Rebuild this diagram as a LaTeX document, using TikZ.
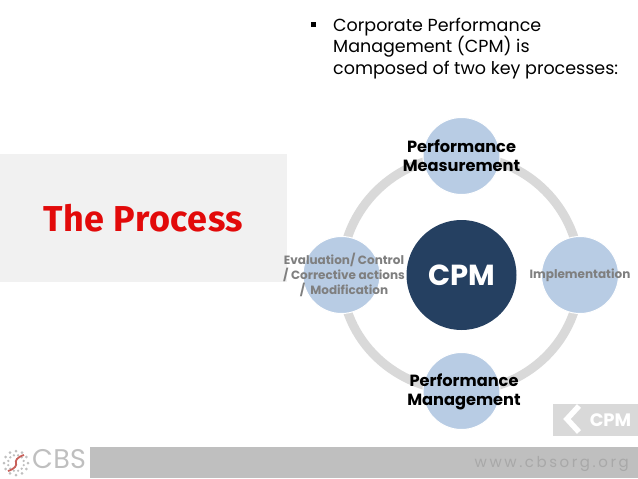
\documentclass[tikz,border=0pt]{standalone}
\usepackage{fontspec}
\setmainfont{Poppins}
\newfontfamily\titlefont[LetterSpace=1.5]{Fira Sans}
\newfontfamily\wideletters[LetterSpace=17]{Poppins}
\newfontfamily\logofont[LetterSpace=1]{Poppins}
\usetikzlibrary{backgrounds}
\definecolor{CpmNavy}{HTML}{254061}
\definecolor{CpmBlue}{HTML}{B8CCE4}
\definecolor{RingGrey}{HTML}{D9D9D9}
\definecolor{PanelGrey}{HTML}{F1F1F1}
\definecolor{BarGrey}{HTML}{BFBFBF}
\definecolor{LabelGrey}{HTML}{7F7F7F}
\definecolor{TitleRed}{HTML}{E20A0A}
\definecolor{LogoRed}{HTML}{C8605A}
\tikzset{
  hubnode/.style={circle,fill=CpmNavy,minimum size=110pt,inner sep=0pt,text=white,font=\fontsize{29}{30}\selectfont\bfseries},
  stagenode/.style={circle,fill=CpmBlue,draw=white,line width=1pt,minimum size=77pt,inner sep=0pt},
  ringline/.style={RingGrey,line width=9pt},
  darklabel/.style={align=center,font=\fontsize{16.2}{19}\selectfont\bfseries,text=black},
  greylabel/.style={align=center,font=\fontsize{12}{15}\selectfont\bfseries,text=LabelGrey}
}
\begin{document}
\begin{tikzpicture}[x=1pt,y=-1pt]
    \useasboundingbox (0,0) rectangle (638,479);
    \node[hubnode] (hub) at (461.5,275) {CPM};
    \node[stagenode] (top) at (461.5,156) {};
    \node[stagenode] (right) at (580,275) {};
    \node[stagenode] (bottom) at (461.5,391) {};
    \node[stagenode] (left) at (341.5,275) {};
    \begin{scope}[on background layer]
      \node[fill=PanelGrey,minimum width=287pt,minimum height=128pt,inner sep=0pt] (panel) at (143.5,218) {};
      \node[fill=BarGrey,minimum width=548pt,minimum height=31pt,inner sep=0pt] (bar) at (364,462.5) {};
      \node[fill=RingGrey,minimum width=85pt,minimum height=32pt,inner sep=0pt] (back) at (595.5,420) {};
      \draw[ringline] (top.center) to[out=0,in=90] (right.center);
      \draw[ringline] (right.center) to[out=-90,in=0] (bottom.center);
      \draw[ringline] (bottom.center) to[out=180,in=-90] (left.center);
      \draw[ringline] (left.center) to[out=90,in=180] (top.center);
    \end{scope}
    \node[darklabel] (topl) at (461.5,156) {Performance\\Measurement};
    \node[darklabel] (bottoml) at (464,392) {Performance\\Management};
    \node[greylabel] (rightl) at (580,275) {Implementation};
    \node[greylabel] (leftl) at (344,275) {Evaluation/ Control\\/ Corrective actions\\/ \ Modification};
    \node[font=\titlefont\fontsize{36}{38}\selectfont\bfseries,text=TitleRed,inner sep=0pt] (title) at (143.5,218) {The Process};
    \node[font=\fontsize{17.5}{21.5}\selectfont,align=left,anchor=north west,inner sep=0pt] (intro) at (333,17.5) {Corporate Performance\\Management (CPM) is\\composed of two key processes:};
    \node[fill=black,minimum size=5pt,inner sep=0pt] (bullet) at (313,24) {};
    \node[font=\fontsize{18}{20}\selectfont\bfseries,text=white,inner sep=0pt] (backl) at (610.5,420) {CPM};
    \draw[white,line width=5.5pt] (579,406) -- (567,419) -- (579,432);
    % logo mark
    \foreach \a in {0,30,...,330} {
      \fill[BarGrey] (\a:12) ++(16,463) circle (1.5pt);
      \fill[BarGrey] (\a+15:8) ++(16,463) circle (1.3pt);
    }
    \draw[LogoRed,line width=1.8pt] (8,471) .. controls (15,469) and (17,465) .. (16,463);
    \draw[LogoRed,line width=1.8pt] (24,455) .. controls (17,457) and (15,461) .. (16,463);
    \node[font=\logofont\fontsize{27}{29}\selectfont,text=BarGrey,inner sep=0pt,anchor=west] (logo) at (32,459) {CBS};
    \node[font=\wideletters\fontsize{15}{17}\selectfont,text=black!34,inner sep=0pt,anchor=east] (web) at (629,464) {www.cbsorg.org};
\end{tikzpicture}
\end{document}
